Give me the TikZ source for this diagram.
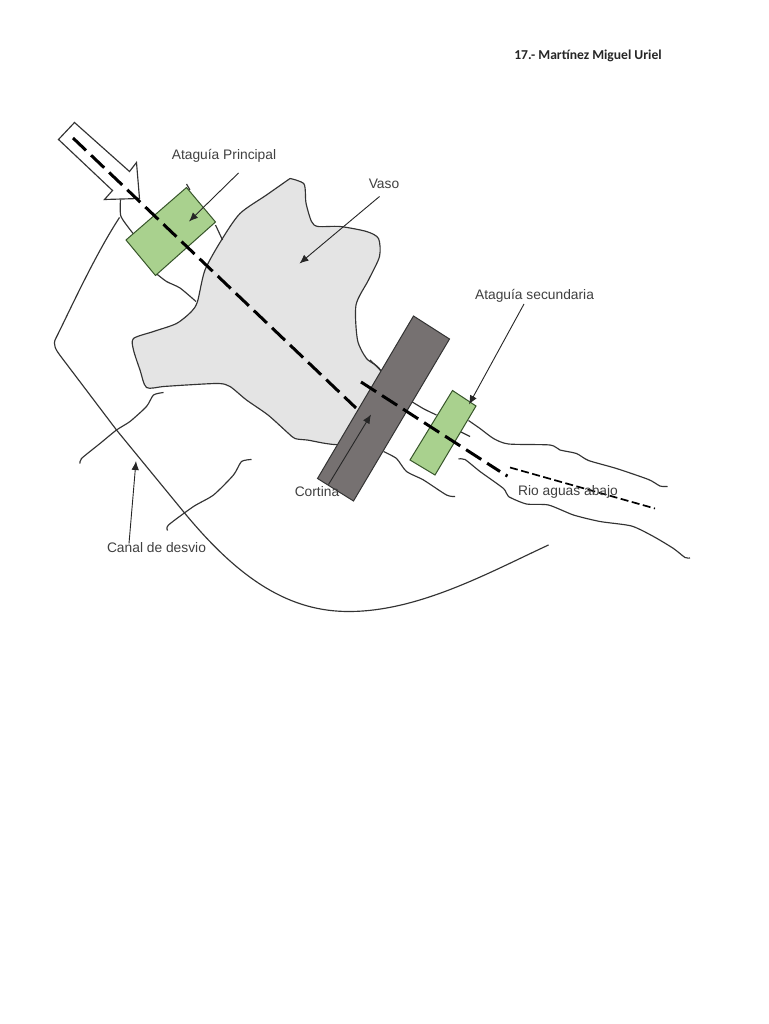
\documentclass[tikz,border=0pt]{standalone}
\usepackage{xcolor}
\usepackage{fontspec}
\setmainfont{Liberation Sans}
\newfontfamily\titlefont{Carlito}
\usetikzlibrary{arrows.meta}
\definecolor{ataguiagreen}{HTML}{A9D18E}
\definecolor{ataguialine}{HTML}{37552A}
\definecolor{vasogray}{HTML}{E4E4E4}
\definecolor{cortinagray}{HTML}{767171}
\definecolor{labelgray}{HTML}{404040}
\tikzset{
  bank/.style={line width=1.15pt,draw=black!80},
  ataguia/.style={draw=ataguialine,line width=1pt,fill=ataguiagreen},
  leader/.style={-{Latex[length=9pt,width=7.5pt]},line width=0.9pt,draw=black!85},
  axisdash/.style={line width=3pt,dash pattern=on 18pt off 7pt},
  label/.style={text=labelgray,font=\fontsize{13.8}{16}\selectfont,inner sep=0pt},
}
\begin{document}
\begin{tikzpicture}[x=1pt,y=-1pt]
\useasboundingbox[fill=white] (0,0) rectangle (768,1024);

% vaso
\draw[bank,fill=vasogray] plot[smooth,tension=0.45] coordinates {(290,178.5) (304,184) (306,203) (311.5,221.5) (318,226.5) (340,226.5) (366.5,231.5) (378.5,238.5) (379.5,256.5) (368.5,280) (356,305) (357.5,340) (366.5,358.5) (381,372) (375,410) (345,443.5) (307,440) (295,438.5) (288,433) (268,415) (246.5,400) (230,386.5) (218.5,383.5) (186.5,385) (163.5,386.5) (146.5,387.5) (140,370) (133.5,350) (133.5,338.5) (153.5,331.5) (176.5,323.5) (191.5,311.5) (197.5,301.5) (205,270) (221.5,240) (240,213.5) (266.5,195) (290,178.5)};

% river banks
\draw[bank] plot[smooth,tension=0.4] coordinates {(120.5,199.5) (121,216.5) (133.5,234)};
\draw[bank] (186.5,184) -- (190,190);
\draw[bank] (215.5,225) -- (222.5,240);
\draw[bank] plot[smooth,tension=0.4] coordinates {(155.5,273) (166.5,281.5) (180,288) (196,301.5)};
\draw[bank] plot[smooth,tension=0.4] coordinates {(163.5,392.5) (153.5,395) (146.5,406.5) (130,421.5) (116.5,430) (100,443.5) (81.5,458.5) (80,463.5)};
\draw[bank] plot[smooth,tension=0.4] coordinates {(251.5,459.5) (241.5,461.5) (233.5,475) (213.5,495) (193.5,506.5) (168.5,525) (167.5,530.5)};
\draw[bank] plot[smooth,tension=0.4] coordinates {(370,360) (380.5,370.5) (384.5,380)};
\draw[bank] plot[smooth,tension=0.4] coordinates {(411.5,401.5) (424,409) (436.5,415)};
\draw[bank] (460,431.5) -- (470,436.5);
\draw[bank] plot[smooth,tension=0.4] coordinates {(383.5,451.5) (396.5,458.5) (406.5,471.5) (423.5,480) (446.5,495) (455,496.5)};
\draw[bank] plot[smooth,tension=0.4] coordinates {(468.5,420.5) (480,428.5) (493.5,438.5) (508.5,444) (550,445) (560,450) (576.5,453.5) (588.5,460.5) (616.5,468.5) (648.5,479.5) (660,486) (667.5,486.5)};
\draw[bank] plot[smooth,tension=0.4] coordinates {(458.5,459) (465,459.5) (480,471.5) (503.5,488.5) (508.5,496.5) (526.5,504) (548.5,505) (573.5,515) (600,521.5) (631.5,526) (653.5,536.5) (673.5,548.5) (685,557.5) (690,558)};

% canal
\draw[bank] (119.5,217.5) .. controls (95,255) and (70,310) .. (56,338) .. controls (52,345) and (56,350) .. (62,358) -- (116.5,430) -- (185,513.5) .. controls (240,580) and (290,612) .. (350,611.5) .. controls (420,611) and (490,572) .. (548.5,545);

% flow arrow
\draw[bank,fill=white] (74.5,122.5) -- (129.5,171.5) -- (136.5,162.5) -- (139.5,198.5) -- (104.5,199.5) -- (112.5,190.5) -- (58.5,139.5) -- cycle;

% ataguias and cortina
\draw[ataguia] (186.5,187.5) -- (215.5,222) -- (155.5,275.5) -- (126,240) -- cycle;
\draw[ataguia] (452.5,390.5) -- (476,406) -- (435,475) -- (410,460) -- cycle;
\draw[draw=black!80,line width=1pt,fill=cortinagray] (413.5,316) -- (449.5,339) -- (353.5,501) -- (317.5,478.5) -- cycle;

% center lines
\draw[axisdash] (73,138) -- (356,408);
\draw[axisdash] (361,382) -- (500,471.5);
\draw[line width=3pt] (505.5,475) -- (507.5,476);
\draw[line width=1.7pt,dash pattern=on 8pt off 3.5pt] (510,467.5) -- (655,508.5);

% labels
\node[label] (principal) at (224,155.5) {Ataguía Principal};
\node[label] (vaso) at (384,183.5) {Vaso};
\node[label] (secundaria) at (534.5,295.5) {Ataguía secundaria};
\node[label] (cortina) at (317,492) {Cortina};
\node[label] (rio) at (568,492) {Rio aguas abajo};
\node[label] (canal) at (156.5,547.5) {Canal de desvio};
\node[font=\titlefont\bfseries\fontsize{13.6}{15}\selectfont,text=black!85,inner sep=0pt] (autor) at (588,55.5) {17.- Martínez Miguel Uriel};

% leaders
\coordinate (principalfrom) at (238.5,173);
\coordinate (principalto) at (189,221.5);
\coordinate (vasofrom) at (379.5,196.5);
\coordinate (vasoto) at (299.5,263.5);
\coordinate (secundariafrom) at (524,304);
\coordinate (secundariato) at (469,404.5);
\coordinate (cortinafrom) at (328.5,484.5);
\coordinate (cortinato) at (371,414.5);
\coordinate (canalfrom) at (129,543.5);
\coordinate (canalto) at (136,461);
\draw[leader] (principalfrom) -- (principalto);
\draw[leader] (vasofrom) -- (vasoto);
\draw[leader] (secundariafrom) -- (secundariato);
\draw[leader] (cortinafrom) -- (cortinato);
\draw[leader] (canalfrom) -- (canalto);
\end{tikzpicture}
\end{document}
